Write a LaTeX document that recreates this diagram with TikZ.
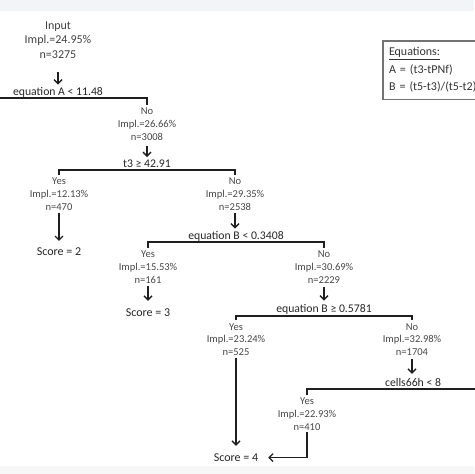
\documentclass[tikz,border=0pt]{standalone}
\usepackage{fontspec}
\setmainfont{Carlito}
\usetikzlibrary{arrows.meta}
\definecolor{topband}{RGB}{242,245,247}
\begin{document}
\begin{tikzpicture}[x=0.75pt,y=-0.75pt,
  plain/.style={inner sep=0pt,outer sep=0pt},
  branch/.style={plain,align=center,text=black!72,font=\fontsize{7.9}{9.6}\selectfont},
  rootnode/.style={plain,align=center,text=black!75,font=\fontsize{9}{10.9}\selectfont},
  cond/.style={plain,anchor=base,text=black!85,font=\fontsize{8.8}{10.5}\selectfont},
  score/.style={plain,anchor=base,text=black!85,font=\fontsize{9}{10.8}\selectfont},
  arr/.style={draw=black!88,line width=1pt,-{Straight Barb[length=3pt,width=6pt,line width=1pt]}},
  bar/.style={draw=black!88,line width=1.1pt},
  eqbox/.style={plain,draw=black!55,line width=0.8pt,anchor=north west,align=left,
    text width=66pt,inner xsep=4.5pt,inner ysep=5pt,text=black!80,font=\fontsize{9}{13.1}\selectfont}
]
\useasboundingbox (0,0) rectangle (474,474);
\fill[topband] (0,0) rectangle (474,11);
\fill[black!3] (0,466) rectangle (474,474);

% nodes
\node[rootnode] (in) at (58,40) {Input\\Impl.=24.95\%\\n=3275};
\node[cond] (cA) at (58,95.5) {equation A < 11.48};
\coordinate (bar1l) at (-5,98);
\node[branch] (no1) at (147,124) {No\\Impl.=26.66\%\\n=3008};
\node[cond] (cT3) at (147,167.3) {t3 ≥ 42.91};
\coordinate (bar2) at (0,170);
\node[branch] (yes2) at (59,194) {Yes\\Impl.=12.13\%\\n=470};
\node[branch] (no2) at (235,194) {No\\Impl.=29.35\%\\n=2538};
\node[score] (s2) at (59,255) {Score = 2};
\node[cond] (cB1) at (236,239) {equation B < 0.3408};
\coordinate (bar3) at (0,242);
\node[branch] (yes3) at (148,267) {Yes\\Impl.=15.53\%\\n=161};
\node[branch] (no3) at (324,267) {No\\Impl.=30.69\%\\n=2229};
\node[score] (s3) at (148,316.5) {Score = 3};
\node[cond] (cB2) at (324,312) {equation B ≥ 0.5781};
\coordinate (bar4) at (0,316);
\node[branch] (yes4) at (236,339.5) {Yes\\Impl.=23.24\%\\n=525};
\node[branch] (no4) at (412,339.5) {No\\Impl.=32.98\%\\n=1704};
\node[cond] (cC) at (413,386.5) {cells66h < 8};
\coordinate (bar5r) at (480,389);
\node[branch] (yes5) at (307,414) {Yes\\Impl.=22.93\%\\n=410};
\node[score] (s4) at (236,461.5) {Score = 4};

\node[eqbox] (eq) at (383,41) {\underline{Equations:}\\A = (t3-tPNf)\\B = (t5-t3)/(t5-t2)};

% bars
\draw[bar] (bar1l) -| ([yshift=2.25pt]no1.north);
\draw[bar] ([yshift=2.25pt]yes2.north) -- (yes2.north |- bar2) -- (no2.north |- bar2) -- ([yshift=2.25pt]no2.north);
\draw[bar] ([yshift=2.25pt]yes3.north) -- (yes3.north |- bar3) -- (no3.north |- bar3) -- ([yshift=2.25pt]no3.north);
\draw[bar] ([yshift=2.25pt]yes4.north) -- (yes4.north |- bar4) -- (no4.north |- bar4) -- ([yshift=2.25pt]no4.north);
\draw[bar] ([yshift=2.25pt]yes5.north) |- (bar5r);

% arrows
\draw[arr,shorten <=10pt,shorten >=2.1pt] (in.south) -- (in.south |- cA.north);
\draw[arr,shorten <=4.3pt,shorten >=2pt] (no1.south) -- (no1.south |- cT3.north);
\draw[arr,shorten <=2.1pt,shorten >=4.7pt] (yes2.south) -- (yes2.south |- s2.north);
\draw[arr,shorten <=2.1pt,shorten >=1.7pt] (no2.south) -- (no2.south |- cB1.north);
\draw[arr,shorten <=2.1pt,shorten >=5.9pt] (yes3.south) -- (yes3.south |- s3.north);
\draw[arr,shorten <=2.8pt,shorten >=2.5pt] (no3.south) -- (no3.south |- cB2.north);
\draw[arr,shorten <=1.4pt,shorten >=5.9pt] (yes4.south) -- (yes4.south |- s4.north);
\draw[arr,shorten <=2.8pt,shorten >=3.4pt] (no4.south) -- (no4.south |- cC.north);
\draw[arr,shorten <=1.4pt,shorten >=7.5pt] (yes5.south) |- (s4.east);
\end{tikzpicture}
\end{document}
